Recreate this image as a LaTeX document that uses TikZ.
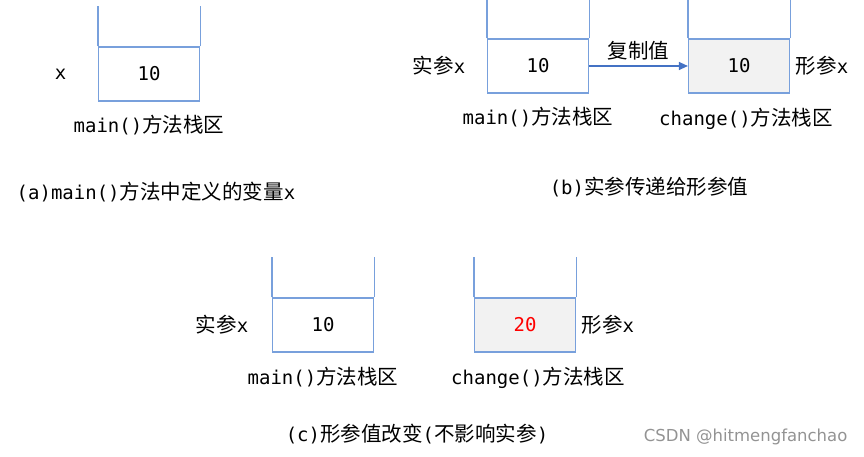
\documentclass[tikz,border=0pt]{standalone}
\usepackage{fontspec}
\setmainfont{DejaVu Sans Mono}
\newfontfamily\zh[Scale=1.08]{Noto Sans CJK SC}
\newfontfamily\wm{DejaVu Sans}
\usetikzlibrary{positioning,arrows.meta}
\definecolor{stackblue}{RGB}{120,160,220}
\definecolor{arrowblue}{RGB}{68,114,196}
\definecolor{paramgray}{RGB}{242,242,242}

\begin{document}
\begin{tikzpicture}[x=1pt,y=1pt,line width=1.2pt,
  every node/.style={font=\fontsize{19}{23}\selectfont,inner sep=2pt},
  cell/.style={draw=stackblue,minimum width=101pt,minimum height=54pt,inner sep=0pt},
  param/.style={cell,fill=paramgray},
  wall/.style={draw=stackblue},
  link/.style={draw=arrowblue,-{Triangle[length=9pt,width=8pt]}}]
  \useasboundingbox (0,0) rectangle (864,457);

  % (a)
  \node[cell] (a1) at (149,383) {10};
  \node (ax) [left=29pt of a1] {x};
  \node (am) [below=11pt of a1] {main(){\zh 方法栈区}};
  \node (acap) at (156,265) {(a)main(){\zh 方法中定义的变量}x};

  % (b)
  \node[cell] (b1) at (538,391) {10};
  \node[param] (b2) at (739,391) {10};
  \node (bx1) [left=19pt of b1] {{\zh 实参}x};
  \node (bx2) [right=3pt of b2] {{\zh 形参}x};
  \node (bm1) [below=11pt of b1] {main(){\zh 方法栈区}};
  \node (bm2) [below=12pt of b2,xshift=7pt] {change(){\zh 方法栈区}};
  \node (bcap) at (649,270) {(b){\zh 实参传递给形参值}};
  \draw[link] (b1) -- node[above=3pt] {{\zh 复制值}} (b2);

  % (c)
  \node[cell] (c1) at (323,132) {10};
  \node[param,text=red] (c2) at (525,132) {20};
  \node (cx1) [left=21pt of c1] {{\zh 实参}x};
  \node (cx2) [right=3pt of c2] {{\zh 形参}x};
  \node (cm1) [below=12pt of c1] {main(){\zh 方法栈区}};
  \node (cm2) [below=12pt of c2,xshift=13pt] {change(){\zh 方法栈区}};
  \node (ccap) at (417,23) {(c){\zh 形参值改变}({\zh 不影响实参})};

  % stack walls
  \foreach \n in {a1,b1,b2,c1,c2}
    \draw[wall] (\n.north west) -- ++(0,40) (\n.north east) -- ++(0,40);

  \node[font=\wm\fontsize{16.5}{19}\selectfont,text=gray!85,anchor=east] (mark) at (850,20) {CSDN @hitmengfanchao};
\end{tikzpicture}
\end{document}
